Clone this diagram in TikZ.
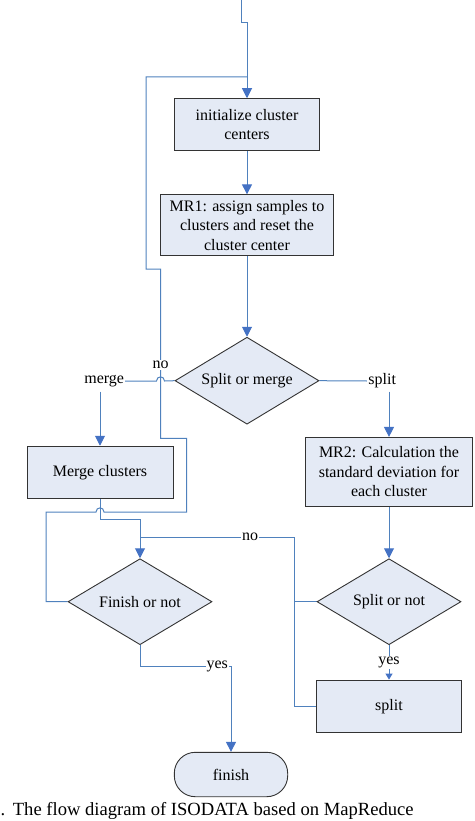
\documentclass[tikz,border=0pt]{standalone}
\usepackage{fontspec}
\setmainfont{Liberation Serif}
\usetikzlibrary{shapes.geometric,arrows.meta}
\definecolor{lineblue}{HTML}{4F81BD}
\definecolor{tipblue}{HTML}{4472C4}
\definecolor{boxfill}{HTML}{E4EAF5}
\definecolor{boxline}{HTML}{333333}
\pgfdeclarelayer{bg}
\pgfsetlayers{bg,main}
\tikzset{
  box/.style={draw=boxline, fill=boxfill, line width=0.9pt, rectangle, align=center, inner sep=2pt,
    font=\fontsize{16}{19.5}\selectfont},
  dia/.style={draw=boxline, fill=boxfill, line width=0.9pt, diamond, aspect=1.67, inner sep=0pt,
    font=\fontsize{16}{19.5}\selectfont},
  term/.style={draw=boxline, fill=boxfill, line width=0.9pt, rectangle, rounded corners=21pt,
    font=\fontsize{16}{19.5}\selectfont},
  lab/.style={fill=white, inner sep=1pt, font=\fontsize{16}{19.5}\selectfont},
  conn/.style={draw=lineblue, line width=1pt},
  arr/.style={conn, -{Triangle[width=10pt,length=10pt,fill=tipblue,color=tipblue]}},
  sarr/.style={conn, -{Triangle[width=7pt,length=6pt,fill=tipblue,color=tipblue]}}
}
\begin{document}
\begin{tikzpicture}[x=1pt,y=-1pt]
\useasboundingbox (0,0) rectangle (474,821);
% nodes
\node[box, minimum width=145, minimum height=52] (init) at (247,124.7) {initialize cluster\\centers};
\node[box, minimum width=173, minimum height=61] (mr1) at (247,225.3) {MR1: assign samples to\\clusters and reset the\\cluster center};
\node[dia, minimum width=144, minimum height=87] (som) at (247,380.7) {Split or merge};
\node[box, minimum width=146, minimum height=52] (merge) at (100,472.2) {Merge clusters};
\node[box, minimum width=167.6, minimum height=68.7] (mr2) at (389,471.7) {MR2: Calculation the\\standard deviation for\\each cluster};
\node[dia, minimum width=144, minimum height=86] (fin) at (140,601.7) {Finish or not};
\node[dia, minimum width=144, minimum height=86] (son) at (389,601.7) {Split or not};
\node[box, minimum width=145.3, minimum height=52.3] (split) at (389,706.2) {split};
\node[term, minimum width=113.4, minimum height=44.4] (finish) at (231,774.5) {finish};
% labels
\node[lab] (lmerge) at (104.2,381) {merge};
\node[lab] (lsplit) at (382.2,381) {split};
\node[lab] (lno1) at (160.5,365) {no};
\node[lab] (lno2) at (250,537.3) {no};
\node[lab] (lyes1) at (217.2,666.7) {yes};
\node[lab] (lyes2) at (389,662.5) {yes};
% caption
\node[anchor=base west, inner sep=0pt, font=\fontsize{18.6}{20}\selectfont] (cap) at (0.5,815.7) {.\hspace{7.5pt}The flow diagram of ISODATA based on MapReduce};
% coordinates
\coordinate (top) at (241.7,0);
\coordinate (mdown) at (100,391.7);
\coordinate (sdown) at (389,391.7);
\begin{pgfonlayer}{bg}
\draw[arr] (top) -- (241.7,23) -- (247,23) -- (init.north);
\draw[arr] (init.south) -- (mr1.north);
\draw[arr] (mr1.south) -- (som.north);
% loop back from Finish or not
\draw[conn] (fin.west) -- (46,601.7) -- (46,512) -- (96,512) .. controls (96,506.5) and (104,506.5) .. (104,512)
  -- (186.7,512) -- (186.7,438.3) -- (160.5,438.3) -- (160.5,269) -- (146,269) -- (146,77) -- (247,77);
% merge branch
\draw[conn] (som.west) -- (164.5,381) .. controls (164.5,375.5) and (156.5,375.5) .. (156.5,381) -- (lmerge.east);
\draw[arr] (mdown) -- (merge.north);
\draw[arr] (merge.south) -- (100,519.3) -- (140,519.3) -- (fin.north);
% split branch
\draw[conn] (som.east) -- (lsplit.west);
\draw[arr] (sdown) -- (mr2.north);
\draw[arr] (mr2.south) -- (son.north);
\draw[sarr] (son.south) -- (split.north);
\draw[conn] (son.west) -- (294.3,601.7) -- (294.3,537.3) -- (140,537.3);
\draw[conn] (split.west) -- (294.3,706.2) -- (294.3,601.7);
% finish
\draw[arr] (fin.south) -- (140,666.7) -- (231,666.7) -- (finish.north);
\end{pgfonlayer}
\end{tikzpicture}
\end{document}
